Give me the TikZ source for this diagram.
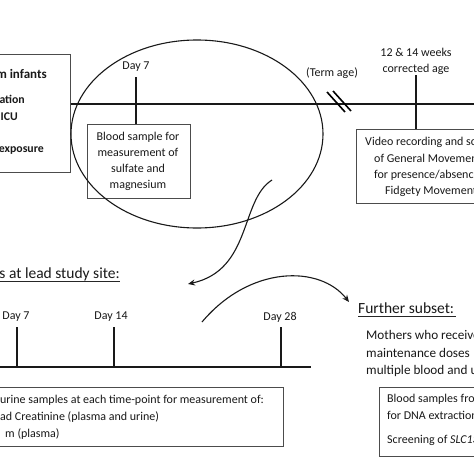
\documentclass[tikz,border=0pt]{standalone}
\usepackage{fontspec}
\setmainfont{Carlito}
\usetikzlibrary{arrows.meta,calc}
\begin{document}
\begin{tikzpicture}[x=1pt,y=-1pt,
  txt/.style={font=\fontsize{12}{16}\selectfont, text=black!90, inner sep=0pt},
  btxt/.style={font=\bfseries\fontsize{11.8}{14}\selectfont, text=black!90, inner sep=0pt},
  htxt/.style={font=\fontsize{15.5}{18}\selectfont, text=black!90, inner sep=0pt},
  mtxt/.style={font=\fontsize{13.2}{16}\selectfont, text=black!90, inner sep=0pt},
  box/.style={draw=black!70, line width=0.8pt},
  tline/.style={line width=2.4pt, black!90},
  tick/.style={line width=2.4pt, black!90},
  curve/.style={line width=1.1pt, black!90},
  arr/.style={curve, -{Stealth[length=7pt,width=6pt]}}]
\useasboundingbox (0,0) rectangle (474,474);
\clip (0,0) rectangle (474,474);
\fill[white] (0,0) rectangle (474,474);

% ---------- upper timeline ----------
\coordinate (t0) at (70,104);
\coordinate (t1) at (480,104);
\draw[tline] (t0) -- (t1);

% top-left box
\draw[box] (-100,54) rectangle (70,172);
\node[btxt, anchor=east, font=\bfseries\fontsize{13}{15}\selectfont] (pi) at (47,74) {Preterm infants};
\node[btxt, anchor=east] (ga) at (25,100) {gestation};
\node[btxt, anchor=east] (ni) at (18,117) {NICU};
\node[btxt, anchor=east] (ex) at (44,151) {exposure};

% Day 7 (upper)
\coordinate (d7a) at (136,77);
\coordinate (d7b) at (136,125);
\draw[tick] (d7a) -- (d7b);
\node[txt] (d7l) at (136,67) {Day 7};
\draw[box] (87,124) rectangle (190,198);
\node[txt, align=center] (bs) at (138,161)
  {Blood sample for\\measurement of\\sulfate and\\magnesium};

% ellipse
\draw[curve] (197,134) ellipse [x radius=126, y radius=94];

% term age
\node[txt] (term) at (332,73) {(Term age)};
\coordinate (s1a) at (327,92); \coordinate (s1b) at (345,112);
\coordinate (s2a) at (333,91); \coordinate (s2b) at (351,111);
\draw[line width=1.6pt] (s1a) -- (s1b);
\draw[line width=1.6pt] (s2a) -- (s2b);

% 12 & 14 weeks
\node[txt, align=center] (wk) at (416,61) {12 \& 14 weeks\\corrected age};
\coordinate (wka) at (416,75);
\coordinate (wkb) at (416,129);
\draw[tick] (wka) -- (wkb);
\draw[box] (356,129) rectangle (520,203);
\node[txt, anchor=west] (v1) at (365,142) {Video recording and scoring};
\node[txt, anchor=west] (v2) at (374,158) {of General Movements};
\node[txt, anchor=west] (v3) at (374,175) {for presence/absence of};
\node[txt, anchor=west] (v4) at (385,191) {Fidgety Movements};

% curved arrow down
\coordinate (a1s) at (272,180);
\coordinate (a1e) at (188,284);
\draw[arr] (a1s) .. controls (240,200) and (252,270) .. (a1e);

% ---------- lower section ----------
\node[htxt, anchor=east] (ls) at (120,274) {Subset of infants at lead study site:};
\draw[line width=0.7pt, black!85] (-300,281) -- (120,281);

\coordinate (l0) at (-20,367);
\coordinate (l1) at (311,367);
\draw[tline] (l0) -- (l1);
\coordinate (e7a) at (17,327);  \coordinate (e7b) at (17,367);
\coordinate (e14a) at (114,327); \coordinate (e14b) at (114,367);
\coordinate (e28a) at (281,327); \coordinate (e28b) at (281,367);
\draw[tick] (e7a) -- (e7b);
\draw[tick] (e14a) -- (e14b);
\draw[tick] (e28a) -- (e28b);
\node[txt] (l7) at (16,317) {Day 7};
\node[txt] (l14) at (111,317) {Day 14};
\node[txt] (l28) at (280,317) {Day 28};

\draw[box] (-100,387) rectangle (283,446);
\node[txt, anchor=west] (u1) at (0,400) {urine samples at each time-point for measurement of:};
\node[txt, anchor=west] (u2) at (0,417) {ad Creatinine (plasma and urine)};
\node[txt, anchor=west] (u3) at (5,434) {m (plasma)};

% curved arrow right
\coordinate (a2s) at (202,322);
\coordinate (a2e) at (349,302);
\draw[arr] (a2s) .. controls (250,265) and (320,265) .. (a2e);

% further subset
\node[htxt, anchor=west] (fs) at (358,308) {Further subset:};
\draw[line width=0.7pt, black!85] (358,316) -- (456,316);
\node[mtxt, anchor=west] (m1) at (366,335) {Mothers who received};
\node[mtxt, anchor=west] (m2) at (366,353) {maintenance doses};
\node[mtxt, anchor=west] (m3) at (366,371) {multiple blood and urine};

\draw[box] (379,387) rectangle (520,456);
\node[txt, anchor=west] (b1) at (387,399) {Blood samples from};
\node[txt, anchor=west] (b2) at (387,415) {for DNA extraction};
\node[txt, anchor=west] (b3) at (387,440) {Screening of \textit{SLC13A1}};
\end{tikzpicture}
\end{document}
